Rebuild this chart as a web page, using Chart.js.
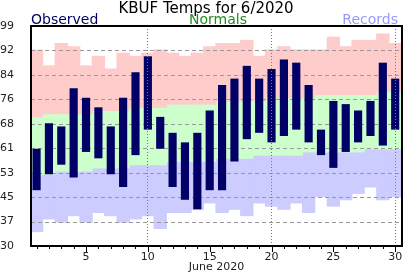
<!DOCTYPE html>
<html lang="en">
<head>
<meta charset="UTF-8">
<title>KBUF Temps for 6/2020</title>
<script src="https://cdn.jsdelivr.net/npm/chart.js@4"></script>
<style>
  body { margin: 0; background: #fff; }
</style>
</head>
<body>
<canvas id="tempChart" width="412" height="276"></canvas>
<script>
// June 2020, KBUF
const days = [1,2,3,4,5,6,7,8,9,10,11,12,13,14,15,16,17,18,19,20,21,22,23,24,25,26,27,28,29,30];
const obsHigh = [61,69,68,80,77,74,68,77,85,90,71,66,63,66,73,81,83,87,83,86,89,88,81,67,76,75,73,76,88,83];
const obsLow  = [48,53,56,52,60,58,53,49,59,67,61,49,45,42,48,48,57,64,66,63,65,67,63,59,55,60,63,65,62,67];
const normHigh = [71,72,72,72,72,73,73,73,74,74,74,75,75,75,75,76,76,76,76,77,77,77,77,78,78,78,78,78,79,79];
const normLow  = [53,53,54,54,54,55,55,55,56,56,56,57,57,57,57,58,58,58,59,59,59,59,60,60,60,60,60,61,61,61];
const recHigh = [92,87,94,93,87,90,86,91,90,91,92,91,90,91,93,94,94,95,90,92,93,92,92,92,96,93,95,95,97,94];
const recLow  = [35,39,38,40,38,41,40,38,39,40,36,41,41,42,44,41,42,40,44,43,42,44,41,46,43,45,47,49,45,46];
const yTickLabels = ['30','37','45','53','61','68','76','84','92','99'];
const yMin = 30.5, yMax = 99.5;

Chart.defaults.font.family = '"DejaVu Sans", sans-serif';

function pairs(lo, hi) {
    return days.map((d, i) => ({ x: d, y: [lo[i], hi[i]] }));
}

// dashed horizontal lines go between the shaded bands and the observed bars
const decorations = {
    id: 'decorations',
    beforeDatasetDraw(chart, args) {
        if (args.index !== 0) return;
        const { ctx, chartArea: a, scales: { y } } = chart;
        ctx.save();
        ctx.strokeStyle = '#999';
        ctx.lineWidth = 1;
        ctx.setLineDash([4, 3]);
        y.ticks.slice(1, -1).forEach(t => {
            const py = Math.round(y.getPixelForValue(t.value)) + 0.5;
            ctx.beginPath();
            ctx.moveTo(a.left, py);
            ctx.lineTo(a.right, py);
            ctx.stroke();
        });
        ctx.restore();
    },
    afterDraw(chart) {
        const { ctx, chartArea: a, scales: { x } } = chart;
        ctx.save();
        ctx.strokeStyle = '#000';
        ctx.lineWidth = 1;
        x.ticks.forEach(t => {
            const px = Math.round(x.getPixelForValue(t.value)) + 0.5;
            ctx.beginPath();
            ctx.moveTo(px, a.bottom);
            ctx.lineTo(px, a.bottom + (t.value % 5 === 0 ? 6 : 3));
            ctx.stroke();
        });
        ctx.lineWidth = 2;
        ctx.strokeRect(a.left, a.top, a.right - a.left, a.bottom - a.top);

        ctx.textBaseline = 'alphabetic';
        ctx.font = '15px "DejaVu Sans"';
        ctx.fillStyle = '#000';
        ctx.textAlign = 'center';
        ctx.fillText('KBUF Temps for 6/2020', chart.width / 2, 13);

        ctx.font = '14px "DejaVu Sans"';
        ctx.textAlign = 'left';
        ctx.fillStyle = '#000066';
        ctx.fillText('Observed', a.left, 24);
        ctx.fillStyle = '#228b22';
        ctx.fillText('Normals', 189, 24);
        ctx.textAlign = 'right';
        ctx.fillStyle = '#9999ff';
        ctx.fillText('Records', a.right - 4, 24);
        ctx.restore();
    }
};

const bandOpts = { barPercentage: 1, categoryPercentage: 1, grouped: false, inflateAmount: 0.5, borderWidth: 0 };

new Chart(document.getElementById('tempChart').getContext('2d'), {
    type: 'bar',
    data: {
        datasets: [
            { label: 'Observed', data: pairs(obsLow, obsHigh), backgroundColor: '#000066',
              barPercentage: 0.66, categoryPercentage: 1, grouped: false, borderWidth: 0 },
            Object.assign({ label: 'Record high', data: pairs(normHigh, recHigh), backgroundColor: '#ffcccc' }, bandOpts),
            Object.assign({ label: 'Normals', data: pairs(normLow, normHigh), backgroundColor: '#ccffcc' }, bandOpts),
            Object.assign({ label: 'Record low', data: pairs(recLow, normLow), backgroundColor: '#ccccff' }, bandOpts)
        ]
    },
    options: {
        responsive: false,
        animation: false,
        layout: { padding: { top: 26, right: 10, left: 0, bottom: 0 } },
        plugins: {
            legend: { display: false },
            tooltip: { enabled: false }
        },
        scales: {
            x: {
                type: 'linear',
                offset: false,
                min: 0.55,
                max: 30.55,
                afterBuildTicks: s => { s.ticks = days.map(d => ({ value: d })); },
                afterFit: s => { s.height = 30; },
                grid: {
                    z: 1,
                    offset: false,
                    drawTicks: false,
                    lineWidth: 1,
                    color: c => (c.tick && c.tick.value % 10 === 0) ? '#777' : 'rgba(0,0,0,0)'
                },
                border: { display: false, dash: [1, 2] },
                ticks: {
                    autoSkip: false,
                    maxRotation: 0,
                    padding: 5,
                    color: '#222',
                    font: { size: 11 },
                    callback: v => v % 5 === 0 ? String(v) : ''
                },
                title: {
                    display: true,
                    text: 'June 2020',
                    color: '#222',
                    font: { size: 11 },
                    padding: { top: 0, bottom: 2 }
                }
            },
            y: {
                min: yMin,
                max: yMax,
                afterBuildTicks: s => {
                    const step = (yMax - yMin) / (yTickLabels.length - 1);
                    s.ticks = yTickLabels.map((l, i) => ({ value: yMin + i * step }));
                },
                afterFit: s => { s.width = 31; },
                grid: { display: false },
                border: { display: false },
                ticks: {
                    padding: 9,
                    color: '#222',
                    font: { size: 11 },
                    callback: (v, i) => yTickLabels[i]
                }
            }
        }
    },
    plugins: [decorations]
});
</script>
</body>
</html>
